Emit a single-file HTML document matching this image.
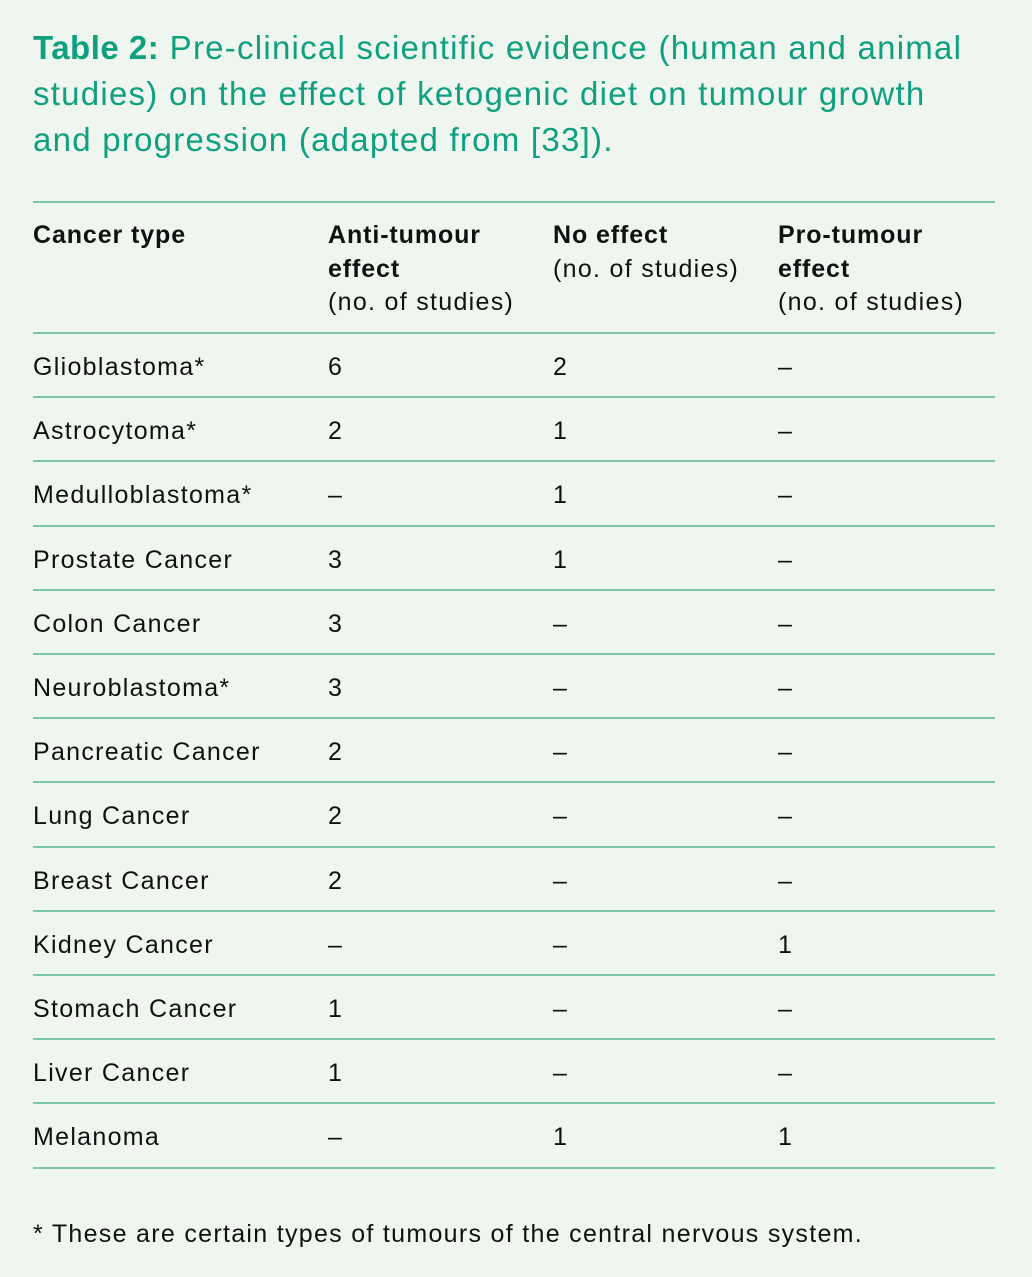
<!DOCTYPE html>
<html><head><meta charset="utf-8"><style>
body{margin:0;background:#eef6ef;}
#p{position:relative;width:1032px;height:1277px;background:#eef6ef;font-family:"Liberation Sans",sans-serif;color:#111;overflow:hidden}
.t{position:absolute;left:33px;font-size:33px;line-height:46px;color:#10a080;white-space:nowrap;letter-spacing:1.25px}
.t b{font-weight:bold;letter-spacing:0.5px}
.l{position:absolute;left:33px;width:962px;height:1.5px;background:#7cc4ad}
.c{position:absolute;font-size:25px;line-height:33.5px;white-space:nowrap;letter-spacing:1.3px}
.h{font-weight:bold;letter-spacing:0.9px}
</style></head><body><div id="p">
<div class="t" style="top:25px"><b>Table 2:</b> Pre-clinical scientific evidence (human and animal</div>
<div class="t" style="top:71px">studies) on the effect of ketogenic diet on tumour growth</div>
<div class="t" style="top:117px">and progression (adapted from [33]).</div>
<div class="l" style="top:201px"></div>
<div class="c h" style="left:33px;top:219px">Cancer type</div>
<div class="c" style="left:328px;top:219px"><span class="h">Anti-tumour<br>effect</span><br>(no. of studies)</div>
<div class="c" style="left:553px;top:219px"><span class="h">No effect</span><br>(no. of studies)</div>
<div class="c" style="left:778px;top:219px"><span class="h">Pro-tumour<br>effect</span><br>(no. of studies)</div>
<div class="l" style="top:332px"></div>
<div id="rows"></div>
<div class="c" style="left:33px;top:1218px">* These are certain types of tumours of the central nervous system.</div>
</div>
<script>
var d=[["Glioblastoma*","6","2","–"],["Astrocytoma*","2","1","–"],["Medulloblastoma*","–","1","–"],["Prostate Cancer","3","1","–"],["Colon Cancer","3","–","–"],["Neuroblastoma*","3","–","–"],["Pancreatic Cancer","2","–","–"],["Lung Cancer","2","–","–"],["Breast Cancer","2","–","–"],["Kidney Cancer","–","–","1"],["Stomach Cancer","1","–","–"],["Liver Cancer","1","–","–"],["Melanoma","–","1","1"]];
var xs=[33,328,553,778],h="";
d.forEach(function(r,i){var y=332+i*64.2;r.forEach(function(v,j){h+='<div class="c" style="left:'+xs[j]+'px;top:'+Math.round(y+19)+'px">'+v+'</div>';});h+='<div class="l" style="top:'+Math.round(y+64.2)+'px"></div>';});
document.getElementById("rows").innerHTML=h;
</script>
</body></html>
